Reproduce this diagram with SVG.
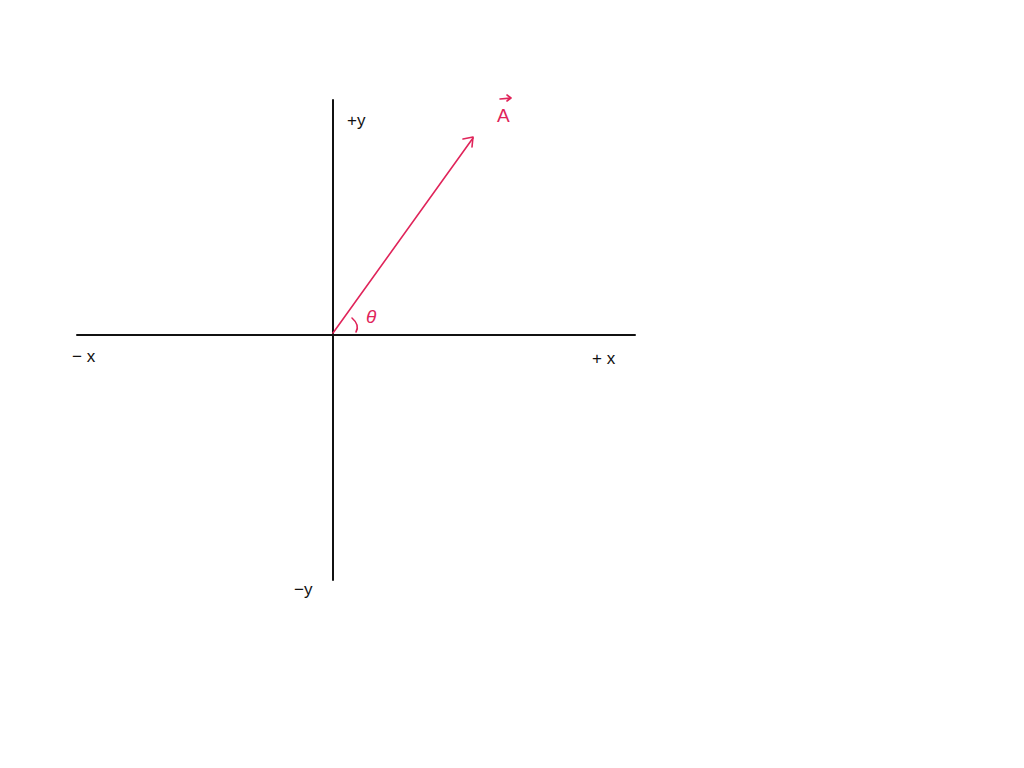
<svg xmlns="http://www.w3.org/2000/svg" width="1024" height="768" viewBox="0 0 1024 768">
<style>
.axis{stroke:#111;stroke-width:2;fill:none;stroke-linecap:round}
.vec{stroke:#e0245a;stroke-width:1.6;fill:none;stroke-linecap:round;stroke-linejoin:round}
.lbl{font-family:"Liberation Sans",Arial,sans-serif;font-size:17px;fill:#111}
.red{font-family:"Liberation Sans",Arial,sans-serif;fill:#e0245a}
</style>
<rect width="1024" height="768" fill="#fff"/>
<g id="axes">
<line class="axis" x1="77" y1="335" x2="635" y2="335"/>
<line class="axis" x1="333" y1="100" x2="333" y2="580"/>
</g>
<g id="connectors">
<line class="vec" x1="333" y1="333" x2="473" y2="138"/>
<polyline class="vec" points="463,139 473,137 472,147"/>
<path class="vec" d="M352,318 Q360,325 356,332"/>
</g>
<g id="labels">
<text class="lbl" x="347" y="126">+y</text>
<text class="lbl" x="72" y="362">− x</text>
<text class="lbl" x="592" y="364">+ x</text>
<text class="lbl" x="294" y="595">−y</text>
<text class="red" x="366" y="323" font-size="19" font-style="italic">θ</text>
<text class="red" x="497" y="122" font-size="19">A</text>
<path class="vec" d="M500,99 L511,98 M507,95 L511,98 L507,101"/>
</g>
</svg>
